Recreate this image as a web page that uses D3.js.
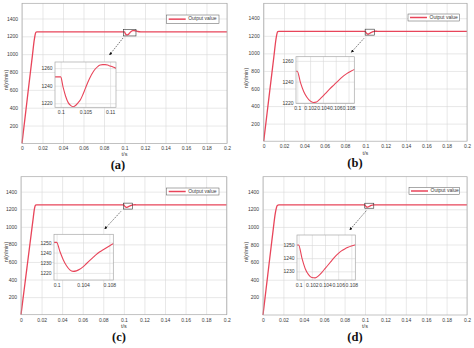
<!DOCTYPE html>
<html><head><meta charset="utf-8">
<script src="https://cdn.jsdelivr.net/npm/d3@7/dist/d3.min.js"></script>
<style>body{margin:0;background:#fff}svg{display:block}</style>
</head><body>
<svg id="c" width="474" height="348"></svg>
<script>
// ---------- DATA ----------
const mainXTicks = [0,0.02,0.04,0.06,0.08,0.1,0.12,0.14,0.16,0.18,0.2];
const mainXLabels = ["0","0.02","0.04","0.06","0.08","0.1","0.12","0.14","0.16","0.18","0.2"];
const mainYTicks = [200,400,600,800,1000,1200,1400];
const mainYLabels = ["200","400","600","800","1000","1200","1400"];
const legendLabel = "Output value";
const xTitle = "t/s";
const yTitle = "n/(r/min)";

// start-up (rise) of speed, per panel
const riseA_t = [0,0.002,0.004,0.006,0.008,0.010,0.012,0.013,0.0137,0.0148];
const riseA_n = [0,195,390,585,778,970,1162,1228,1248,1250];
const riseB_t = [0,0.002,0.004,0.006,0.008,0.010,0.012,0.013,0.0138,0.0150];
const riseB_n = [0,192,385,578,770,962,1155,1222,1247,1250];
const riseC_t = [0,0.002,0.004,0.006,0.008,0.010,0.012,0.013,0.0142,0.0152];
const riseC_n = [0,185,370,555,740,925,1110,1200,1247,1250];
const riseD_t = [0,0.002,0.004,0.006,0.008,0.010,0.012,0.013,0.0140,0.0155];
const riseD_n = [0,195,390,585,778,970,1150,1210,1243,1250];

// load-disturbance dip (zoomed region)
const dipA_t = [0.0985,0.1,0.1005,0.101,0.1015,0.102,0.1025,0.103,0.1035,0.104,0.1045,0.105,0.1055,0.106,0.1065,0.107,0.1075,0.108,0.1085,0.109,0.1095,0.11,0.1105,0.111,0.1115];
const dipA_n = [1250,1250,1238,1228,1221,1217.5,1216,1217.5,1220.5,1224,1230,1237,1244,1250,1255,1259,1261.8,1263.5,1264,1264,1263.5,1262.5,1261.5,1260.3,1259.5];
const dipB_t = [0.0995,0.1,0.1005,0.101,0.1015,0.102,0.1025,0.103,0.1035,0.104,0.1045,0.105,0.1055,0.106,0.1065,0.107,0.1075,0.108,0.1085,0.109];
const dipB_n = [1250,1250,1239,1230.5,1225,1221.5,1220,1220.5,1223,1226,1229.3,1232.5,1235.6,1238.5,1241.5,1244.3,1246.8,1248.8,1250.5,1252];
const dipC_t = [0.0995,0.1,0.1005,0.101,0.1015,0.102,0.1025,0.103,0.1035,0.104,0.1045,0.105,0.1055,0.106,0.1065,0.107,0.1075,0.108,0.1085,0.109];
const dipC_n = [1250,1250,1241,1233,1227,1223,1221.5,1222,1223.5,1226,1229,1232,1235,1238,1240.5,1242.5,1244.5,1246.5,1248.5,1250];
const dipD_t = [0.0995,0.1,0.1005,0.101,0.1015,0.102,0.1025,0.103,0.1035,0.104,0.1045,0.105,0.1055,0.106,0.1065,0.107,0.1075,0.108,0.1085,0.109];
const dipD_n = [1250,1250,1240,1232,1227.5,1225.3,1225,1226.5,1229,1232,1235,1238,1241,1243.5,1245.5,1247,1248.2,1249.2,1250,1250.5];

// recovery after the zoomed region
const tailA_t = [0.113,0.116,0.2], tailA_n = [1254,1250,1250];
const tailB_t = [0.111,0.113,0.2], tailB_n = [1252,1250,1250];
const tailC_t = [0.111,0.113,0.2], tailC_n = [1251,1250,1250];
const tailD_t = [0.111,0.113,0.2], tailD_n = [1250.5,1250,1250];

// inset ticks
const insA_xt = [0.1,0.105,0.11], insA_xl = ["0.1","0.105","0.11"];
const insA_yt = [1220,1240,1260], insA_yl = ["1220","1240","1260"];
const insB_xt = [0.1,0.102,0.104,0.106,0.108], insB_xl = ["0.1","0.102","0.104","0.106","0.108"];
const insB_yt = [1220,1240,1260], insB_yl = ["1220","1240","1260"];
const insC_xt = [0.1,0.104,0.108], insC_xl = ["0.1","0.104","0.108"];
const insC_yt = [1220,1230,1240,1250], insC_yl = ["1220","1230","1240","1250"];
const insD_xt = [0.1,0.102,0.104,0.106,0.108], insD_xl = ["0.1","0.102","0.104","0.106","0.108"];
const insD_yt = [1230,1240,1250], insD_yl = ["1230","1240","1250"];

const captions = ["(a)","(b)","(c)","(d)"];

// ---------- LAYOUT ----------
const Y_MAX = 1570;
const RED = "#e8455a", GRID = "#d8d8d8", FRAME = "#a8a8a8", TXT = "#3a3a3a";
const FONT = '"Liberation Sans", Arial, sans-serif';

const panels = [
 {rt:riseA_t,rn:riseA_n,dt:dipA_t,dn:dipA_n,tt:tailA_t,tn:tailA_n,
  m:[22,227,3.3,143.4], ins:[55,116,62,107.3], ixd:[0.09885,0.1112], iyd:[1215.4,1267],
  ixt:insA_xt,ixl:insA_xl,iyt:insA_yt,iyl:insA_yl,
  arrow:[123,38,109.5,55], leg:[166.7,219,15,23.3], xt:156, yl:7, yc:80, cap:[118,168.5]},
 {rt:riseB_t,rn:riseB_n,dt:dipB_t,dn:dipB_n,tt:tailB_t,tn:tailB_n,
  m:[263.7,467,3.3,141.2], ins:[296,354.3,56.7,103.5], ixd:[0.0998,0.1089], iyd:[1219,1264],
  ixt:insB_xt,ixl:insB_xl,iyt:insB_yt,iyl:insB_yl,
  arrow:[364,38.3,351.3,52.3], leg:[408,459.7,14,21], xt:154.5, yl:246.5, yc:78, cap:[355,166.5]},
 {rt:riseC_t,rn:riseC_n,dt:dipC_t,dn:dipC_n,tt:tailC_t,tn:tailC_n,
  m:[21,226.7,176.7,314.7], ins:[54,113.3,234.3,280], ixd:[0.0996,0.1086], iyd:[1213,1258],
  ixt:insC_xt,ixl:insC_xl,iyt:insC_yt,iyl:insC_yl,
  arrow:[121,211.3,104.7,229], leg:[166.7,219,188,195], xt:328, yl:7, yc:252, cap:[119,340.5]},
 {rt:riseD_t,rn:riseD_n,dt:dipD_t,dn:dipD_n,tt:tailD_t,tn:tailD_n,
  m:[263,467,176.7,315], ins:[297,355.3,235,280], ixd:[0.09975,0.1086], iyd:[1223.4,1257.6],
  ixt:insD_xt,ixl:insD_xl,iyt:insD_yt,iyl:insD_yl,
  arrow:[366.3,210.7,349.7,230], leg:[409,459.7,187.3,194.7], xt:328, yl:246.5, yc:252, cap:[355,340.5]}
];

const svg = d3.select("#c");
svg.append("rect").attr("width",474).attr("height",348).attr("fill","#fff");
const defs = svg.append("defs");
defs.append("marker").attr("id","ah").attr("viewBox","0 0 10 10").attr("refX",9).attr("refY",5)
  .attr("markerWidth",5).attr("markerHeight",5).attr("orient","auto-start-reverse")
  .append("path").attr("d","M0,0L10,5L0,10Z").attr("fill","#111");

function zip(t,n){ return t.map((v,i)=>[v,n[i]]); }

panels.forEach((p,pi)=>{
  const g = svg.append("g");
  const [x0,x1,y0,y1] = p.m;
  const x = d3.scaleLinear().domain([0,0.2]).range([x0,x1]);
  const y = d3.scaleLinear().domain([0,Y_MAX]).range([y1,y0]);

  g.append("rect").attr("x",x0).attr("y",y0).attr("width",x1-x0).attr("height",y1-y0).attr("fill","#fff");
  const gx = g.append("g").attr("transform",`translate(0,${y1})`)
    .call(d3.axisBottom(x).tickValues(mainXTicks).tickSize(-(y1-y0)).tickFormat((d,i)=>mainXLabels[i]).tickPadding(3.5));
  const gy = g.append("g").attr("transform",`translate(${x0},0)`)
    .call(d3.axisLeft(y).tickValues(mainYTicks).tickSize(-(x1-x0)).tickFormat((d,i)=>mainYLabels[i]).tickPadding(4));
  [gx,gy].forEach(a=>{
    a.select(".domain").remove();
    a.selectAll("line").attr("stroke",GRID).attr("stroke-width",0.6);
    a.selectAll("text").attr("fill",TXT).style("font-family",FONT).style("font-size","5px");
  });
  const pts = zip(p.rt,p.rn).concat(zip(p.dt,p.dn)).concat(zip(p.tt,p.tn));
  const line = d3.line().x(d=>x(d[0])).y(d=>y(d[1])).curve(d3.curveMonotoneX);
  g.append("path").attr("d",line(pts)).attr("fill","none").attr("stroke",RED).attr("stroke-width",1.3);
  g.append("rect").attr("x",x0).attr("y",y0).attr("width",x1-x0).attr("height",y1-y0)
    .attr("fill","none").attr("stroke",FRAME).attr("stroke-width",0.7);
  g.append("text").attr("x",(x0+x1)/2).attr("y",p.xt).attr("text-anchor","middle")
    .attr("fill",TXT).style("font-family",FONT).style("font-size","5.5px").text(xTitle);
  g.append("text").attr("transform",`translate(${p.yl},${p.yc}) rotate(-90)`).attr("text-anchor","middle")
    .attr("dominant-baseline","middle").attr("fill",TXT).style("font-family",FONT).style("font-size","5.5px").text(yTitle);
  const zx0 = x(p.ixd[0]), zx1 = x(p.ixd[1]), zy0 = y(p.iyd[1])-1, zy1 = y(p.iyd[0])+1;
  g.append("rect").attr("x",zx0).attr("y",zy0).attr("width",zx1-zx0).attr("height",zy1-zy0)
    .attr("fill","none").attr("stroke","#333").attr("stroke-width",0.6);
  g.append("line").attr("x1",p.arrow[0]).attr("y1",p.arrow[1]).attr("x2",p.arrow[2]).attr("y2",p.arrow[3])
    .attr("stroke","#222").attr("stroke-width",0.6).attr("stroke-dasharray","1.5,1").attr("marker-end","url(#ah)");
  const [lx0,lx1,ly0,ly1] = p.leg;
  g.append("rect").attr("x",lx0).attr("y",ly0).attr("width",lx1-lx0).attr("height",ly1-ly0)
    .attr("fill","#fff").attr("stroke","#555").attr("stroke-width",0.5);
  const lyc = (ly0+ly1)/2;
  g.append("line").attr("x1",lx0+2).attr("x2",lx0+19).attr("y1",lyc).attr("y2",lyc).attr("stroke",RED).attr("stroke-width",1.5);
  g.append("text").attr("x",lx0+21.5).attr("y",lyc).attr("dominant-baseline","middle").attr("fill",TXT)
    .style("font-family",FONT).style("font-size","5px").text(legendLabel);

  const [ix0,ix1,iy0,iy1] = p.ins;
  const ix = d3.scaleLinear().domain(p.ixd).range([ix0,ix1]);
  const iy = d3.scaleLinear().domain(p.iyd).range([iy1,iy0]);
  g.append("rect").attr("x",ix0).attr("y",iy0).attr("width",ix1-ix0).attr("height",iy1-iy0).attr("fill","#fff");
  const igx = g.append("g").attr("transform",`translate(0,${iy1})`)
    .call(d3.axisBottom(ix).tickValues(p.ixt).tickSize(-(iy1-iy0)).tickFormat((d,i)=>p.ixl[i]).tickPadding(3));
  const igy = g.append("g").attr("transform",`translate(${ix0},0)`)
    .call(d3.axisLeft(iy).tickValues(p.iyt).tickSize(-(ix1-ix0)).tickFormat((d,i)=>p.iyl[i]).tickPadding(2.5));
  [igx,igy].forEach(a=>{
    a.select(".domain").remove();
    a.selectAll("line").attr("stroke",GRID).attr("stroke-width",0.6);
    a.selectAll("text").attr("fill",TXT).style("font-family",FONT).style("font-size","5px");
  });
  const cid = "clip"+pi;
  defs.append("clipPath").attr("id",cid).append("rect").attr("x",ix0).attr("y",iy0).attr("width",ix1-ix0).attr("height",iy1-iy0);
  const iline = d3.line().x(d=>ix(d[0])).y(d=>iy(d[1])).curve(d3.curveMonotoneX);
  g.append("path").attr("d",iline(zip(p.dt,p.dn))).attr("clip-path",`url(#${cid})`)
    .attr("fill","none").attr("stroke",RED).attr("stroke-width",1.1);
  g.append("rect").attr("x",ix0).attr("y",iy0).attr("width",ix1-ix0).attr("height",iy1-iy0)
    .attr("fill","none").attr("stroke",FRAME).attr("stroke-width",0.7);

  g.append("text").attr("x",p.cap[0]).attr("y",p.cap[1]).attr("text-anchor","middle")
    .style("font-family",'"Liberation Serif","Times New Roman",serif').style("font-weight","bold")
    .style("font-size","12.5px").attr("fill","#111").text(captions[pi]);
});
</script>
</body></html>
